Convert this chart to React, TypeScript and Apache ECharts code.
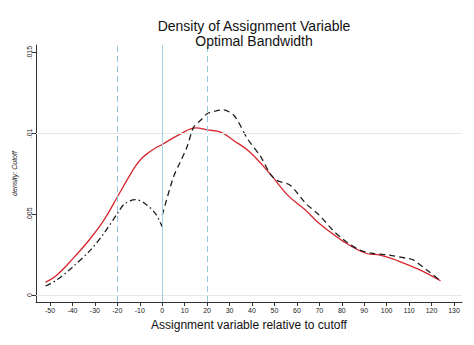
import React, { useEffect, useRef } from "react";
import * as echarts from "echarts";

const xTicks = [-50, -40, -30, -20, -10, 0, 10, 20, 30, 40, 50, 60, 70, 80, 90, 100, 110, 120, 130];
const yTicks = [0, 0.005, 0.01, 0.015];
const yTickLabels = ["0", ".005", ".01", ".015"];
const cutoffLines = [-20, 0, 20];

const redX = [-52, -47, -40, -32, -26, -20, -15, -12, -9, -6, -3, 0, 8, 15, 20, 26, 32, 39, 48, 56, 64, 70, 81, 91, 97, 105, 115, 124];
const redY = [0.00078, 0.00123, 0.00222, 0.0035, 0.00463, 0.00607, 0.00728, 0.00796, 0.00848, 0.00882, 0.0091, 0.00932, 0.00996, 0.01035, 0.01022, 0.01008, 0.00955, 0.00885, 0.00751, 0.00617, 0.00523, 0.00442, 0.00329, 0.00257, 0.00247, 0.00212, 0.00154, 0.00088];

const leftX = [-52, -47, -40, -32, -26, -20, -17, -12, -8, -3, 0];
const leftY = [0.00056, 0.00093, 0.00172, 0.00278, 0.00381, 0.00504, 0.00562, 0.00591, 0.0057, 0.00504, 0.00422];

const rightX = [0, 5, 8, 11, 14, 17, 20, 24, 27, 32, 38, 44, 48, 51, 57, 64, 70, 76, 81, 88, 94, 101, 109, 112, 118, 124];
const rightY = [0.00494, 0.0073, 0.00823, 0.00915, 0.01039, 0.0108, 0.01122, 0.0114, 0.01146, 0.01111, 0.00967, 0.00854, 0.00751, 0.0071, 0.00679, 0.00566, 0.00494, 0.00401, 0.0034, 0.00278, 0.00257, 0.00247, 0.00227, 0.00216, 0.00154, 0.00088];

const zip = (xs: number[], ys: number[]) => xs.map((x, i) => [x, ys[i]]);

const FONT = "Liberation Sans, Arial, sans-serif";

export default function App() {
  const ref = useRef<HTMLDivElement>(null);
  useEffect(() => {
    if (!ref.current) return;
    const chart = echarts.init(ref.current, undefined, { renderer: "svg" });
    chart.setOption({
      animation: false,
      backgroundColor: "#ffffff",
      title: {
        text: "Density of Assignment Variable\nOptimal Bandwidth",
        left: 249,
        top: 13,
        textAlign: "center",
        textStyle: { fontFamily: FONT, fontSize: 14, fontWeight: "normal", color: "#111", lineHeight: 15 },
      },
      grid: { left: 36, right: 12, top: 45, bottom: 43 },
      xAxis: {
        type: "value",
        min: -56.24,
        max: 133.56,
        name: "Assignment variable relative to cutoff",
        nameLocation: "middle",
        nameGap: 17,
        nameTextStyle: { fontFamily: FONT, fontSize: 12, color: "#111" },
        axisLine: { show: true, onZero: false, lineStyle: { color: "#333", width: 1 } },
        axisTick: { show: true, length: 4, customValues: xTicks, lineStyle: { color: "#333" } },
        axisLabel: { customValues: xTicks, fontFamily: FONT, fontSize: 7, color: "#222", margin: 5, formatter: (v: number) => String(v) },
        splitLine: { show: false },
      },
      yAxis: {
        type: "value",
        min: -0.000432,
        max: 0.015475,
        name: "density: Cutoff",
        nameLocation: "middle",
        nameGap: 17,
        nameRotate: 90,
        nameTextStyle: { fontFamily: FONT, fontSize: 7, color: "#222", fontStyle: "italic" },
        axisLine: { show: true, onZero: false, lineStyle: { color: "#333", width: 1 } },
        axisTick: { show: true, length: 4, customValues: yTicks, lineStyle: { color: "#333" } },
        axisLabel: {
          customValues: yTicks,
          rotate: 90,
          fontFamily: FONT,
          fontSize: 7,
          color: "#222",
          margin: 3,
          formatter: (v: number) => {
            const i = yTicks.findIndex((t) => Math.abs(t - v) < 1e-9);
            return i >= 0 ? yTickLabels[i] : "";
          },
        },
        splitLine: { show: false },
      },
      series: [
        {
          type: "line",
          data: [],
          silent: true,
          markLine: {
            silent: true,
            symbol: "none",
            label: { show: false },
            lineStyle: { color: "#e3eaea", width: 1, type: "solid" },
            data: yTicks.slice(0, 3).map((v) => ({ yAxis: v })),
          },
        },
        {
          type: "line",
          data: [],
          silent: true,
          markLine: {
            silent: true,
            symbol: "none",
            label: { show: false },
            lineStyle: { color: "#94c6dd", width: 1, type: [6, 4] },
            data: cutoffLines.map((v) => (v === 0 ? { xAxis: v, lineStyle: { color: "#a6d0e2", type: "solid" } } : { xAxis: v })),
          },
        },
        {
          type: "line",
          data: zip(redX, redY),
          showSymbol: false,
          smooth: 0.4,
          lineStyle: { color: "#d7262e", width: 1.3 },
          z: 3,
        },
        {
          type: "line",
          data: zip(leftX, leftY),
          showSymbol: false,
          smooth: 0.3,
          lineStyle: { color: "#1f1f1f", width: 1.3, type: [6, 3, 1.5, 3] },
          z: 4,
        },
        {
          type: "line",
          data: zip(rightX, rightY),
          showSymbol: false,
          smooth: 0.3,
          lineStyle: { color: "#1f1f1f", width: 1.3, type: [6, 4] },
          z: 4,
        },
      ],
    });
    return () => chart.dispose();
  }, []);
  return <div ref={ref} style={{ width: 474, height: 345, position: "absolute", left: 0, top: 0 }} />;
}
